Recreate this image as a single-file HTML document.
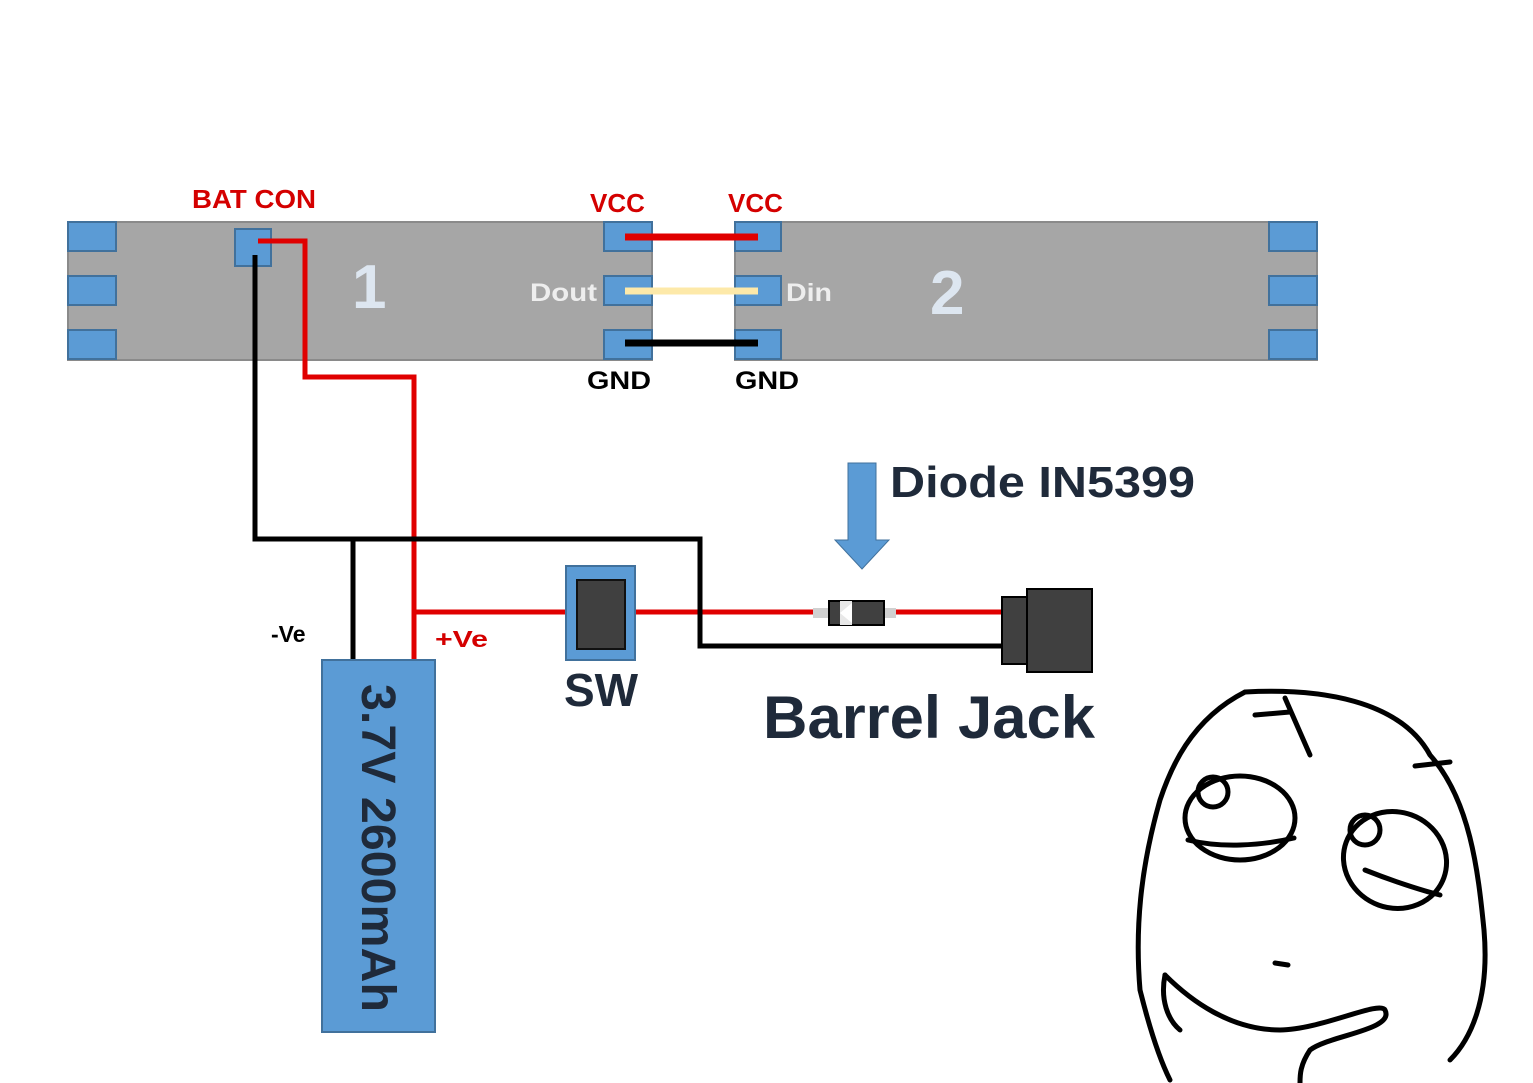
<!DOCTYPE html>
<html><head><style>body{margin:0;background:#fff}svg{display:block}text{font-family:"Liberation Sans",sans-serif;font-weight:bold}</style></head><body>
<svg width="1533" height="1083" viewBox="0 0 1533 1083">
<rect x="68" y="222" width="584" height="138" fill="#a6a6a6" stroke="#8a8a8a" stroke-width="2"/>
<rect x="735" y="222" width="582" height="138" fill="#a6a6a6" stroke="#8a8a8a" stroke-width="2"/>
<g fill="#5b9bd5" stroke="#41719c" stroke-width="2">
<rect x="68" y="222" width="48" height="29"/><rect x="68" y="276" width="48" height="29"/><rect x="68" y="330" width="48" height="29"/>
<rect x="604" y="222" width="48" height="29"/><rect x="604" y="276" width="48" height="29"/><rect x="604" y="330" width="48" height="29"/>
<rect x="735" y="222" width="46" height="29"/><rect x="735" y="276" width="46" height="29"/><rect x="735" y="330" width="46" height="29"/>
<rect x="1269" y="222" width="48" height="29"/><rect x="1269" y="276" width="48" height="29"/><rect x="1269" y="330" width="48" height="29"/>
<rect x="235" y="229" width="36" height="37"/>
</g>
<g fill="none" stroke-width="5">
<line x1="625" y1="237" x2="758" y2="237" stroke="#e00000" stroke-width="7"/>
<line x1="625" y1="291" x2="758" y2="291" stroke="#fde9a9" stroke-width="7"/>
<line x1="625" y1="343" x2="758" y2="343" stroke="#000" stroke-width="7"/>
<polyline points="258,241 305,241 305,377 414,377 414,660" stroke="#e00000"/>
<line x1="414" y1="612" x2="1002" y2="612" stroke="#e00000"/>
<polyline points="255,255 255,539 700,539 700,646 1002,646" stroke="#000"/>
<line x1="353" y1="539" x2="353" y2="660" stroke="#000"/>
</g>
<rect x="566" y="566" width="69" height="94" fill="#5b9bd5" stroke="#41719c" stroke-width="2"/>
<rect x="577" y="580" width="48" height="69" fill="#404040" stroke="#111" stroke-width="2"/>
<rect x="813" y="608" width="83" height="10" fill="#d0d0d0"/>
<rect x="829" y="601" width="55" height="24" fill="#404040" stroke="#000" stroke-width="2"/>
<rect x="840" y="601" width="12" height="24" fill="#e8e8e8"/>
<polygon points="852,603 852,623 840,613" fill="#fff"/>
<rect x="1002" y="597" width="25" height="67" fill="#404040" stroke="#000" stroke-width="2"/>
<rect x="1027" y="589" width="65" height="83" fill="#404040" stroke="#000" stroke-width="2"/>
<polygon points="848,463 876,463 876,540 889,540 862,569 835,540 848,540" fill="#5b9bd5" stroke="#41719c" stroke-width="1"/>
<rect x="322" y="660" width="113" height="372" fill="#5b9bd5" stroke="#41719c" stroke-width="2"/>
<text transform="translate(362,684) rotate(90)" font-size="48" fill="#1f2a3a" textLength="328" lengthAdjust="spacingAndGlyphs">3.7V 2600mAh</text>
<text x="192" y="208" font-size="26" fill="#d40000" textLength="124" lengthAdjust="spacingAndGlyphs">BAT CON</text>
<text x="590" y="212" font-size="26" fill="#d40000">VCC</text>
<text x="728" y="212" font-size="26" fill="#d40000">VCC</text>
<text x="530" y="301" font-size="25" fill="#eeeeee" textLength="67" lengthAdjust="spacingAndGlyphs">Dout</text>
<text x="786" y="301" font-size="25" fill="#eeeeee" textLength="46" lengthAdjust="spacingAndGlyphs">Din</text>
<text x="587" y="389" font-size="25" fill="#000" textLength="64" lengthAdjust="spacingAndGlyphs">GND</text>
<text x="735" y="389" font-size="25" fill="#000" textLength="64" lengthAdjust="spacingAndGlyphs">GND</text>
<text x="352" y="308" font-size="62" fill="#dde6f0">1</text>
<text x="930" y="314" font-size="62" fill="#dde6f0">2</text>
<text x="271" y="642" font-size="23" fill="#000">-Ve</text>
<text x="435" y="647" font-size="23" fill="#d40000" textLength="53" lengthAdjust="spacingAndGlyphs">+Ve</text>
<text x="564" y="706" font-size="46" fill="#1f2a3a">SW</text>
<text x="890" y="497" font-size="44" fill="#1f2a3a" textLength="305" lengthAdjust="spacingAndGlyphs">Diode IN5399</text>
<text x="763" y="738" font-size="60" fill="#1f2a3a" textLength="332" lengthAdjust="spacingAndGlyphs">Barrel Jack</text>
<g fill="none" stroke="#000" stroke-width="5" stroke-linecap="round">
<path d="M1245,692 C1320,688 1400,700 1430,755 C1470,800 1478,870 1484,930 C1490,1000 1470,1040 1450,1060"/>
<path d="M1245,692 C1190,720 1170,770 1160,800 C1140,870 1135,930 1140,990 C1150,1030 1160,1060 1170,1080"/>
<path d="M1285,698 L1310,755"/><path d="M1255,715 L1290,712"/>
<path d="M1415,766 L1450,762"/>
<ellipse cx="1240" cy="818" rx="55" ry="42"/>
<path d="M1188,840 C1220,848 1260,846 1294,838"/>
<circle cx="1213" cy="792" r="15"/>
<ellipse cx="1395" cy="860" rx="52" ry="48" transform="rotate(20 1395 860)"/>
<path d="M1365,870 C1390,880 1420,890 1440,895"/>
<circle cx="1365" cy="830" r="15"/>
<path d="M1275,963 L1288,965"/>
<path d="M1165,975 C1190,1000 1230,1030 1280,1030 C1320,1030 1380,1000 1385,1010 C1395,1030 1330,1035 1310,1050 C1300,1065 1300,1075 1300,1083"/>
<path d="M1165,975 C1160,1000 1168,1020 1180,1030"/>
</g>
</svg>
</body></html>
